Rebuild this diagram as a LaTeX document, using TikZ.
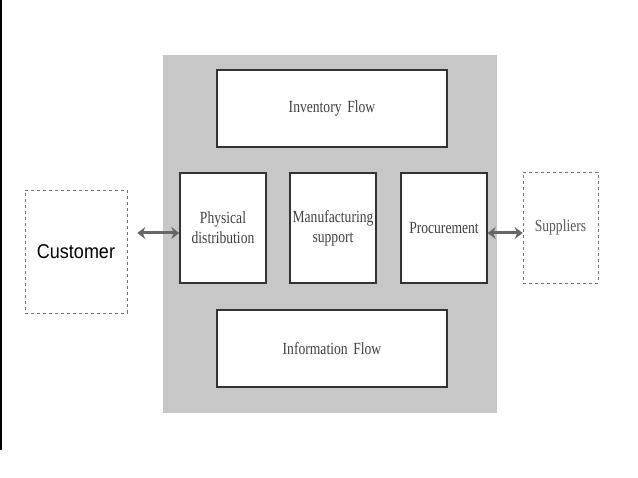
\documentclass[tikz,border=0pt]{standalone}
\usepackage{fontspec}
\setmainfont{Liberation Serif}
\newfontfamily\condf[FakeStretch=0.8]{Liberation Serif}
\newfontfamily\sansf[FakeStretch=0.9]{Liberation Sans}
\usetikzlibrary{arrows.meta}
\begin{document}
\begin{tikzpicture}[x=1pt,y=-1pt,
  box/.style={draw=black!80,line width=1.4pt,fill=white,align=center,font=\condf\fontsize{17}{20}\selectfont,text=black!75,inner sep=0pt,text width=84},
  dbox/.style={draw=black!55,dashed,line width=0.6pt,fill=white,align=center,inner sep=0pt},
  dbl/.style={{Stealth[length=8pt,width=12pt]}-{Stealth[length=8pt,width=12pt]},line width=3pt,draw=black!60}]
\useasboundingbox (0,0) rectangle (638,478);
\fill[white] (0,0) rectangle (638,478);
\draw[line width=1.5pt] (1,0) -- (1,450);
\fill[black!22] (163,55) rectangle (497,413);
\node[box,minimum width=230,minimum height=77,text width=228] (inv) at (332,108.5) {Inventory Flow};
\node[box,minimum width=86,minimum height=110] (phy) at (223,228) {Physical\\distribution};
\node[box,minimum width=86,minimum height=110] (man) at (333,228) {Manufacturing\\support};
\node[box,minimum width=86,minimum height=110] (pro) at (444,228) {Procurement};
\node[box,minimum width=230,minimum height=77,text width=228] (inf) at (332,348.5) {Information Flow};
\node[dbox,minimum width=102,minimum height=123,font=\sansf\fontsize{20}{22}\selectfont] (cus) at (76,252) {Customer};
\node[dbox,minimum width=75,minimum height=111,font=\condf\fontsize{17}{20}\selectfont,text=black!65] (sup) at (560.5,227.5) {Suppliers};
\draw[dbl] ([xshift=10pt]cus.east |- 0,233) -- (phy.west |- 0,233);
\draw[dbl] (pro.east |- 0,233) -- (sup.west |- 0,233);
\end{tikzpicture}
\end{document}
